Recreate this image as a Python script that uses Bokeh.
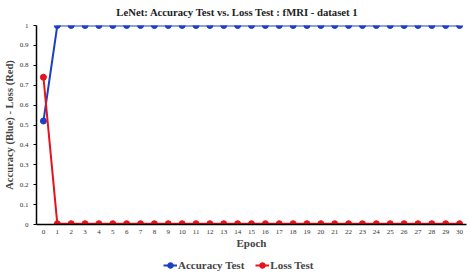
from bokeh.plotting import figure
from bokeh.models import Legend, LegendItem, Range1d, FixedTicker
from bokeh.core.properties import value
from bokeh.layouts import column
from bokeh.embed import file_html
from bokeh.resources import INLINE

epochs = list(range(31))
accuracy = [0.52] + [1.0] * 30
loss = [0.74] + [0.004] * 30
y_ticks = [0, 0.1, 0.2, 0.3, 0.4, 0.5, 0.6, 0.7, 0.8, 0.9, 1.0]
y_tick_labels = ["0", "0.1", "0.2", "0.3", "0.4", "0.5", "0.6", "0.7", "0.8", "0.9", "1"]
series_names = ["Accuracy Test", "Loss Test"]
title_text = "LeNet: Accuracy Test vs. Loss Test : fMRI - dataset 1"

BLUE = "#1c3fc4"
RED = "#e8121c"
FONT = "Liberation Serif"

# title strip; its frame is aligned with the chart frame (canvas px 36..466)
t = figure(width=474, height=20, output_backend="svg", toolbar_location=None,
           x_range=Range1d(36, 466), y_range=Range1d(0, 20), min_border=0,
           min_border_left=0, min_border_right=0, min_border_top=0, min_border_bottom=0,
           x_axis_type=None, y_axis_type=None)
t.grid.visible = False
t.outline_line_color = None
t.text(x=[237], y=[8.5], text=[title_text], text_align="center", text_baseline="middle",
       text_font=value(FONT), text_font_size="10.7px", text_font_style="bold",
       text_color="#222222")

p = figure(width=474, height=234, output_backend="svg", toolbar_location=None,
           x_range=Range1d(-0.5, 30.5), y_range=Range1d(0, 1),
           min_border_left=36, min_border_right=8, min_border_top=5, min_border_bottom=30)

p.outline_line_color = None
p.xgrid.visible = False
p.ygrid.visible = False

p.xaxis.ticker = FixedTicker(ticks=epochs)
p.xaxis.major_label_text_font = FONT
p.xaxis.major_label_text_font_size = "7px"
p.xaxis.major_label_text_color = "#333333"
p.xaxis.major_tick_line_color = None
p.xaxis.minor_tick_line_color = None
p.xaxis.axis_line_color = "black"
p.xaxis.axis_line_width = 1.5
p.xaxis.axis_label = "Epoch"
p.xaxis.axis_label_text_font = FONT
p.xaxis.axis_label_text_font_size = "11px"
p.xaxis.axis_label_text_font_style = "bold"
p.xaxis.axis_label_standoff = 0
p.xaxis.major_label_standoff = -1

p.yaxis.ticker = FixedTicker(ticks=y_ticks)
p.yaxis.major_label_overrides = {t_: l for t_, l in zip(y_ticks, y_tick_labels)}
p.yaxis.major_label_text_font = FONT
p.yaxis.major_label_text_font_size = "7px"
p.yaxis.major_label_text_color = "#333333"
p.yaxis.major_tick_out = 3
p.yaxis.major_tick_in = 0
p.yaxis.minor_tick_line_color = None
p.yaxis.axis_line_color = "black"
p.yaxis.axis_line_width = 1.5
p.yaxis.axis_label = "Accuracy (Blue) - Loss (Red)"
p.yaxis.axis_label_text_font = FONT
p.yaxis.axis_label_text_font_size = "10.5px"
p.yaxis.axis_label_text_font_style = "bold"
p.yaxis.axis_label_standoff = 2

p.line(epochs, accuracy, line_color=BLUE, line_width=2)
p.scatter(epochs, accuracy, size=6, fill_color=BLUE, line_color=BLUE)
p.line(epochs, loss, line_color=RED, line_width=2)
p.scatter(epochs, loss, size=6, fill_color=RED, line_color=RED)

# legend strip below the chart (frame also aligned to canvas px 36..466)
q = figure(width=474, height=24, output_backend="svg", toolbar_location=None,
           x_range=Range1d(0, 1), y_range=Range1d(0, 1), min_border=0,
           min_border_left=0, min_border_right=0, min_border_top=0, min_border_bottom=0,
           x_axis_type=None, y_axis_type=None)
q.grid.visible = False
q.outline_line_color = None
la = q.line([epochs[0] - 10], [accuracy[0] - 10], line_color=BLUE, line_width=2)
sa = q.scatter([epochs[0] - 10], [accuracy[0] - 10], size=5, fill_color=BLUE, line_color=BLUE)
lb = q.line([epochs[0] - 10], [loss[0] - 10], line_color=RED, line_width=2)
sb = q.scatter([epochs[0] - 10], [loss[0] - 10], size=5, fill_color=RED, line_color=RED)

legend = Legend(items=[LegendItem(label=series_names[0], renderers=[la, sa]),
                       LegendItem(label=series_names[1], renderers=[lb, sb])],
                orientation="horizontal", location=(127, 3),
                label_text_font=FONT, label_text_font_size="11px",
                label_text_font_style="bold", border_line_alpha=0,
                background_fill_alpha=0, glyph_width=14, spacing=11,
                padding=0, margin=0, label_standoff=1)
q.add_layout(legend, "center")

open("out.html", "w").write(file_html(column(t, p, q, spacing=0), INLINE))
